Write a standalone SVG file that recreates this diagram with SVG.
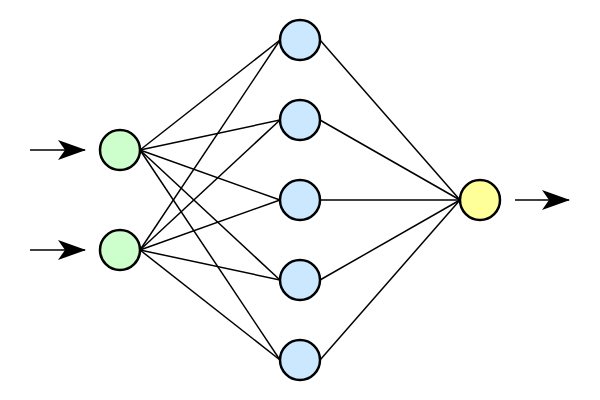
<svg xmlns="http://www.w3.org/2000/svg" width="600" height="400" viewBox="0 0 600 400">
<style>
.n{stroke:#000;stroke-width:2.5}
.in{fill:#ccffcc}
.hid{fill:#cce8ff}
.out{fill:#ffff99}
.c line{stroke:#000;stroke-width:1.5}
.a{stroke:#000;stroke-width:2;marker-end:url(#ah)}
</style>
<defs>
<marker id="ah" viewBox="0 0 28 20" refX="27" refY="10" markerWidth="28" markerHeight="20" markerUnits="userSpaceOnUse" orient="auto">
<path d="M0,0 L28,10 L0,20 L7,10 Z" fill="#000"/>
</marker>
</defs>
<rect width="600" height="400" fill="#fff"/>
<g id="connectors" class="c">
<line x1="140" y1="150" x2="280" y2="40"/>
<line x1="140" y1="150" x2="280" y2="120"/>
<line x1="140" y1="150" x2="280" y2="200"/>
<line x1="140" y1="150" x2="280" y2="280"/>
<line x1="140" y1="150" x2="280" y2="360"/>
<line x1="140" y1="250" x2="280" y2="40"/>
<line x1="140" y1="250" x2="280" y2="120"/>
<line x1="140" y1="250" x2="280" y2="200"/>
<line x1="140" y1="250" x2="280" y2="280"/>
<line x1="140" y1="250" x2="280" y2="360"/>
<line x1="320" y1="40" x2="460" y2="200"/>
<line x1="320" y1="120" x2="460" y2="200"/>
<line x1="320" y1="200" x2="460" y2="200"/>
<line x1="320" y1="280" x2="460" y2="200"/>
<line x1="320" y1="360" x2="460" y2="200"/>
<line class="a" x1="30" y1="150" x2="85" y2="150"/>
<line class="a" x1="30" y1="250" x2="85" y2="250"/>
<line class="a" x1="515" y1="200" x2="569" y2="200"/>
</g>
<g id="in1"><circle class="n in" cx="120" cy="150" r="20"/></g>
<g id="in2"><circle class="n in" cx="120" cy="250" r="20"/></g>
<g id="h1"><circle class="n hid" cx="300" cy="40" r="20"/></g>
<g id="h2"><circle class="n hid" cx="300" cy="120" r="20"/></g>
<g id="h3"><circle class="n hid" cx="300" cy="200" r="20"/></g>
<g id="h4"><circle class="n hid" cx="300" cy="280" r="20"/></g>
<g id="h5"><circle class="n hid" cx="300" cy="360" r="20"/></g>
<g id="out"><circle class="n out" cx="480" cy="200" r="20"/></g>
</svg>
